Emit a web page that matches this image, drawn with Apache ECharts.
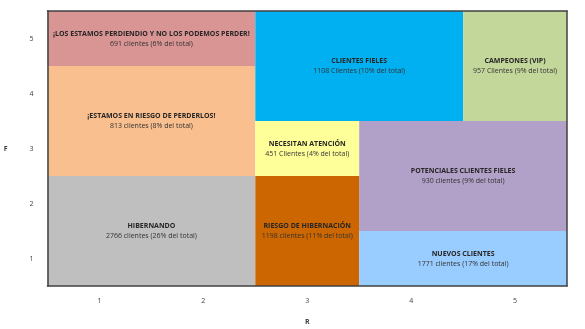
<!DOCTYPE html>
<html><head><meta charset="utf-8">
<script src="https://cdn.jsdelivr.net/npm/echarts@6/dist/echarts.min.js"></script>
<style>html,body{margin:0;padding:0;background:#fff}#c{width:585px;height:329px}</style>
</head><body><div id="c"></div>
<script>
var segments = ['¡LOS ESTAMOS PERDIENDIO Y NO LOS PODEMOS PERDER!','¡ESTAMOS EN RIESGO DE PERDERLOS!','HIBERNANDO','CLIENTES FIELES','CAMPEONES (VIP)','NECESITAN ATENCIÓN','POTENCIALES CLIENTES FIELES','RIESGO DE HIBERNACIÓN','NUEVOS CLIENTES'];
var rFrom = [1, 1, 1, 3, 5, 3, 4, 3, 4];
var rTo   = [2, 2, 2, 4, 5, 3, 5, 3, 5];
var fFrom = [5, 3, 1, 4, 4, 3, 2, 1, 1];
var fTo   = [5, 4, 2, 5, 5, 3, 3, 2, 1];
var counts = [691, 813, 2766, 1108, 957, 451, 930, 1198, 1771];
var pcts = [6, 8, 26, 10, 9, 4, 9, 11, 17];
var unitWord = ['clientes','clientes','clientes','Clientes','Clientes','Clientes','clientes','clientes','clientes'];
var tickLabels = ['1','2','3','4','5'];
var palette = ['#d99594','#f9bf8f','#bfbfbf','#00b0f0','#c4d79b','#ffff99','#b1a0c7','#cc6600','#99ccff'];

var data = segments.map(function(s,i){
  return [rFrom[i]-0.5, rTo[i]+0.5, fFrom[i]-0.5, fTo[i]+0.5, i];
});
var FONT = '"Open Sans", "Liberation Sans", sans-serif';
var chart = echarts.init(document.getElementById('c'), null, {renderer:'canvas'});
var lineAxis = {
  type:'value', min:0.5, max:5.5, interval:1,
  splitLine:{show:false}, axisTick:{show:false}, axisLabel:{show:false},
  axisLine:{show:true, lineStyle:{color:'#404040', width:1.5}}, z:10
};
var labelStyle = {fontFamily:FONT, fontSize:7, color:'#404040'};
var nameStyle = {fontFamily:FONT, fontSize:7, fontWeight:'bold', color:'#404040'};
chart.setOption({
  animation:false,
  grid:{left:47.5, right:18, top:11, bottom:43, outerBoundsMode:'none', containLabel:false},
  xAxis:[
    Object.assign({}, lineAxis, {position:'bottom'}),
    Object.assign({}, lineAxis, {position:'top'}),
    {type:'category', data:tickLabels, position:'bottom', boundaryGap:true,
     axisLine:{show:false}, axisTick:{show:false}, splitLine:{show:false},
     axisLabel:Object.assign({margin:11}, labelStyle),
     name:'R', nameLocation:'middle', nameGap:32, nameTextStyle:nameStyle}
  ],
  yAxis:[
    Object.assign({}, lineAxis, {position:'left'}),
    Object.assign({}, lineAxis, {position:'right'}),
    {type:'category', data:tickLabels, position:'left', boundaryGap:true,
     axisLine:{show:false}, axisTick:{show:false}, splitLine:{show:false},
     axisLabel:Object.assign({margin:14}, labelStyle),
     name:'F', nameLocation:'middle', nameGap:40, nameRotate:0, nameTextStyle:nameStyle}
  ],
  series:[{
    type:'custom',
    xAxisIndex:0, yAxisIndex:0,
    data:data,
    encode:{x:[0,1], y:[2,3]},
    renderItem:function(params, api){
      var p0 = api.coord([api.value(0), api.value(3)]);
      var p1 = api.coord([api.value(1), api.value(2)]);
      var i = api.value(4);
      var x = p0[0], y = p0[1], w = p1[0]-p0[0], h = p1[1]-p0[1];
      return {
        type:'group',
        children:[
          {type:'rect', shape:{x:x, y:y, width:w, height:h}, style:{fill:palette[i], stroke:null}},
          {type:'text', x:x+w/2, y:y+h/2, style:{
            text:'{t|'+segments[i]+'}\n{s|'+counts[i]+' '+unitWord[i]+' ('+pcts[i]+'% del total)}',
            align:'center', verticalAlign:'middle',
            rich:{
              t:{fontFamily:FONT, fontSize:7, fontWeight:'bold', fill:'#262626', lineHeight:10},
              s:{fontFamily:FONT, fontSize:7, fill:'#333333', lineHeight:10}
            }
          }}
        ]
      };
    }
  }]
});
</script></body></html>
